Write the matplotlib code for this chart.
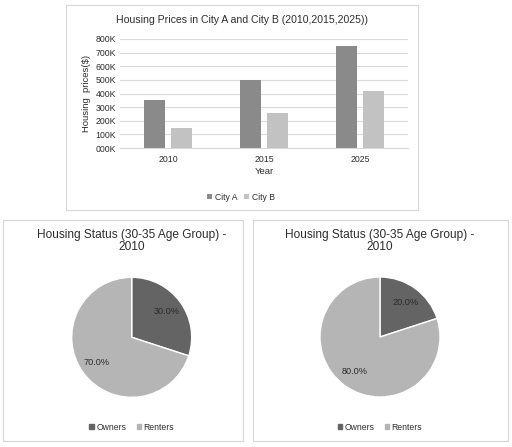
import matplotlib.pyplot as plt
from matplotlib.patches import Rectangle, Patch
import numpy as np

plt.rcParams['font.family'] = ['Liberation Sans', 'DejaVu Sans']

# bar chart data
years = ['2010', '2015', '2025']
city_a = [350000, 500000, 750000]
city_b = [150000, 255000, 420000]
y_ticks = [0, 100000, 200000, 300000, 400000, 500000, 600000, 700000, 800000]
y_tick_labels = ['000K', '100K', '200K', '300K', '400K', '500K', '600K', '700K', '800K']

# pie data
pie_labels = ['Owners', 'Renters']
pie_left = [30, 70]
pie_right = [20, 80]

W, H = 512, 447
col_a, col_b = '#8a8a8a', '#c2c2c2'
col_own, col_rent = '#646464', '#b5b5b5'
txt = '#2e2e2e'


def px_axes(fig, x0, y0, x1, y1):
    # pixel box (top-left origin) -> figure axes
    return fig.add_axes([x0 / W, 1 - y1 / H, (x1 - x0) / W, (y1 - y0) / H])


def frame(fig, x0, y0, x1, y1):
    fig.patches.append(Rectangle((x0 / W, 1 - y1 / H), (x1 - x0) / W, (y1 - y0) / H,
                                 transform=fig.transFigure, fill=False,
                                 edgecolor='#d6d6d6', linewidth=0.8))


fig = plt.figure(figsize=(W / 100, H / 100), dpi=100)
fig.patch.set_facecolor('white')

# ---- bar chart ----
frame(fig, 66, 5, 418, 210)
ax = px_axes(fig, 120, 39, 408, 148)
x = np.arange(len(years))
bw = 0.22
ax.bar(x - 0.14, city_a, bw, color=col_a, label='City A', zorder=3)
ax.bar(x + 0.14, city_b, bw, color=col_b, label='City B', zorder=3)
ax.set_xlim(-0.5, 2.5)
ax.set_ylim(0, 800000)
ax.set_yticks(y_ticks)
ax.set_yticklabels(y_tick_labels)
ax.set_xticks(x)
ax.set_xticklabels(years)
ax.grid(axis='y', color='#d9d9d9', linewidth=0.8, zorder=0)
for s in ['top', 'right', 'left']:
    ax.spines[s].set_visible(False)
ax.spines['bottom'].set_color('#d9d9d9')
ax.tick_params(length=0, labelsize=6.3, colors=txt, pad=3)
ax.tick_params(axis='x', pad=5)
ax.set_xlabel('Year', fontsize=6.8, color=txt, labelpad=2)
ax.set_ylabel('Housing  prices($)', fontsize=6.8, color=txt, labelpad=3)
fig.text(242 / W, 1 - 20 / H, 'Housing Prices in City A and City B (2010,2015,2025))',
         ha='center', va='center', fontsize=7.6, color=txt)
ax.legend(loc='center', bbox_to_anchor=(0.42, -0.45), ncol=2, frameon=False,
          fontsize=6.2, handlelength=0.6, handleheight=0.6, handletextpad=0.3,
          columnspacing=0.8, labelcolor=txt)


# ---- pies ----
def draw_pie(cx, cy, vals, fx0, fx1):
    frame(fig, fx0, 220, fx1, 441)
    r = 60
    pax = px_axes(fig, cx - r, cy - r, cx + r, cy + r)
    pax.pie(vals, colors=[col_own, col_rent], startangle=90, counterclock=False,
            autopct='%1.1f%%', pctdistance=0.72, radius=1,
            wedgeprops=dict(edgecolor='white', linewidth=1.0),
            textprops=dict(fontsize=6.6, color='#2a2a2a'))
    pax.set_xlim(-1, 1)
    pax.set_ylim(-1, 1)
    pax.set_aspect('equal')
    fig.text(cx / W, 1 - 241 / H, 'Housing Status (30-35 Age Group) -\n2010',
             ha='center', va='center', fontsize=8.6, color=txt, linespacing=1.05)
    handles = [Patch(color=col_own, label=pie_labels[0]),
               Patch(color=col_rent, label=pie_labels[1])]
    fig.legend(handles=handles, loc='center', bbox_to_anchor=(cx / W, 1 - 427 / H),
               ncol=2, frameon=False, fontsize=6.2, handlelength=0.5, handleheight=0.5,
               handletextpad=0.3, columnspacing=1.2, labelcolor=txt)


draw_pie(131.7, 337.3, pie_left, 3, 243)
draw_pie(380, 337, pie_right, 253, 508)

fig.savefig('out.png', dpi=100)
